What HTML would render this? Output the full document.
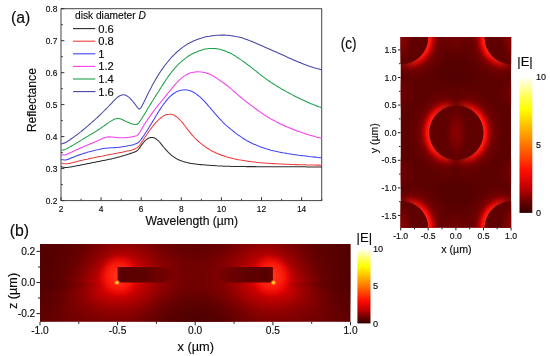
<!DOCTYPE html>
<html><head><meta charset="utf-8"><title>figure</title>
<style>html,body{margin:0;padding:0;background:#fff}body{width:550px;height:356px;overflow:hidden}svg{display:block}text{font-family:"Liberation Sans",sans-serif;fill:#0a0a0a;stroke:#0a0a0a;stroke-width:0.14px}</style></head><body>
<svg width="550" height="356" viewBox="0 0 550 356">
<defs>
<linearGradient id="cb" x1="0" y1="0" x2="0" y2="1"><stop offset="0" stop-color="#ffffff"/><stop offset="0.07" stop-color="#ffffb0"/><stop offset="0.15" stop-color="#ffff50"/><stop offset="0.24" stop-color="#ffff00"/><stop offset="0.33" stop-color="#ffd000"/><stop offset="0.45" stop-color="#ff9000"/><stop offset="0.57" stop-color="#ff5000"/><stop offset="0.69" stop-color="#ff0c00"/><stop offset="0.82" stop-color="#c00000"/><stop offset="0.91" stop-color="#700000"/><stop offset="1" stop-color="#320000"/></linearGradient>
<radialGradient id="bglow" cx="0.5" cy="0.5" r="0.5"><stop offset="0" stop-color="#ff1408" stop-opacity="1"/><stop offset="0.1" stop-color="#f40a04" stop-opacity="1"/><stop offset="0.22" stop-color="#dc0000" stop-opacity="1"/><stop offset="0.36" stop-color="#be0000" stop-opacity="0.92"/><stop offset="0.55" stop-color="#a00000" stop-opacity="0.62"/><stop offset="0.8" stop-color="#880000" stop-opacity="0.22"/><stop offset="1" stop-color="#780000" stop-opacity="0"/></radialGradient>
<radialGradient id="bglow2" cx="0.5" cy="0.5" r="0.5"><stop offset="0" stop-color="#ff3a1c" stop-opacity="1"/><stop offset="0.35" stop-color="#ff2612" stop-opacity="1"/><stop offset="0.6" stop-color="#fc1a0a" stop-opacity="0.85"/><stop offset="0.8" stop-color="#f40e06" stop-opacity="0.45"/><stop offset="1" stop-color="#f00a04" stop-opacity="0"/></radialGradient>
<radialGradient id="hot" cx="0.5" cy="0.5" r="0.5"><stop offset="0" stop-color="#fff060"/><stop offset="0.3" stop-color="#ffc820"/><stop offset="0.65" stop-color="#ff6a10" stop-opacity="0.85"/><stop offset="1" stop-color="#ff3010" stop-opacity="0"/></radialGradient>
<radialGradient id="dark" cx="0.5" cy="0.5" r="0.5"><stop offset="0" stop-color="#4a0000" stop-opacity="0.95"/><stop offset="0.55" stop-color="#520000" stop-opacity="0.6"/><stop offset="1" stop-color="#600000" stop-opacity="0"/></radialGradient>
<linearGradient id="subL" x1="0" y1="0" x2="1" y2="0"><stop offset="0" stop-color="#300000" stop-opacity="0.12"/><stop offset="0.6" stop-color="#300000" stop-opacity="0.12"/><stop offset="1" stop-color="#300000" stop-opacity="0"/></linearGradient>
<linearGradient id="subR" x1="1" y1="0" x2="0" y2="0"><stop offset="0" stop-color="#300000" stop-opacity="0.12"/><stop offset="0.6" stop-color="#300000" stop-opacity="0.12"/><stop offset="1" stop-color="#300000" stop-opacity="0"/></linearGradient>
<clipPath id="clipSub"><rect x="40" y="282.6" width="310.5" height="20"/></clipPath>
<linearGradient id="diskL" gradientUnits="userSpaceOnUse" x1="117.6" y1="0" x2="182" y2="0"><stop offset="0" stop-color="#6c0000"/><stop offset="0.06" stop-color="#580000"/><stop offset="0.45" stop-color="#600000"/><stop offset="0.75" stop-color="#6c0000" stop-opacity="0.8"/><stop offset="1" stop-color="#780000" stop-opacity="0.15"/></linearGradient>
<linearGradient id="diskR" gradientUnits="userSpaceOnUse" x1="272.9" y1="0" x2="208" y2="0"><stop offset="0" stop-color="#6c0000"/><stop offset="0.06" stop-color="#580000"/><stop offset="0.45" stop-color="#600000"/><stop offset="0.75" stop-color="#6c0000" stop-opacity="0.8"/><stop offset="1" stop-color="#780000" stop-opacity="0.15"/></linearGradient>
<filter id="blur1" x="-10%" y="-30%" width="120%" height="160%"><feGaussianBlur stdDeviation="1.5"/></filter>
<clipPath id="clipDisk"><rect x="117.6" y="267" width="155.3" height="15.6"/></clipPath>
<clipPath id="clipB"><rect x="40" y="244.1" width="310.5" height="77.7"/></clipPath>
<clipPath id="clipC"><rect x="400.5" y="37" width="110.7" height="190.8"/></clipPath>
<radialGradient id="cring" cx="0.5" cy="0.5" r="0.5"><stop offset="0.488" stop-color="#ff1a10" stop-opacity="0"/><stop offset="0.505" stop-color="#ff2416" stop-opacity="1"/><stop offset="0.555" stop-color="#f20c06" stop-opacity="1"/><stop offset="0.6" stop-color="#c80000" stop-opacity="0.85"/><stop offset="0.66" stop-color="#9c0000" stop-opacity="0.5"/><stop offset="0.77" stop-color="#800000" stop-opacity="0.25"/><stop offset="0.94" stop-color="#700000" stop-opacity="0"/></radialGradient>
<radialGradient id="cin" cx="0.5" cy="0.5" r="0.5"><stop offset="0" stop-color="#640000"/><stop offset="0.7" stop-color="#600000"/><stop offset="1" stop-color="#620000"/></radialGradient>
<radialGradient id="dark2" cx="0.5" cy="0.5" r="0.5"><stop offset="0" stop-color="#500000" stop-opacity="0.9"/><stop offset="0.6" stop-color="#540000" stop-opacity="0.6"/><stop offset="1" stop-color="#5c0000" stop-opacity="0"/></radialGradient>
<radialGradient id="lite" cx="0.5" cy="0.5" r="0.5"><stop offset="0" stop-color="#780000" stop-opacity="0.9"/><stop offset="0.6" stop-color="#720000" stop-opacity="0.6"/><stop offset="1" stop-color="#6a0000" stop-opacity="0"/></radialGradient>
<radialGradient id="lite2" cx="0.5" cy="0.5" r="0.5"><stop offset="0" stop-color="#900000" stop-opacity="0.95"/><stop offset="0.5" stop-color="#880000" stop-opacity="0.65"/><stop offset="1" stop-color="#780000" stop-opacity="0"/></radialGradient>
<linearGradient id="cmask" x1="0" y1="0" x2="1" y2="0"><stop offset="0" stop-color="#fff"/><stop offset="0.27" stop-color="#fff" /><stop offset="0.35" stop-color="#c4c4c4"/><stop offset="0.41" stop-color="#868686"/><stop offset="0.46" stop-color="#444444"/><stop offset="0.5" stop-color="#222222"/><stop offset="0.54" stop-color="#444444"/><stop offset="0.59" stop-color="#868686"/><stop offset="0.65" stop-color="#c4c4c4"/><stop offset="0.73" stop-color="#fff"/><stop offset="1" stop-color="#fff"/></linearGradient>
</defs>
<g id="panelA">
<text x="11" y="22.7" font-size="15.8">(a)</text>
<rect x="61.0" y="8.7" width="260.7" height="191.9" fill="none" stroke="#444" stroke-width="1"/>
<path d="M61.0 200.6v-3.4M81.1 200.6v-1.8M101.1 200.6v-3.4M121.2 200.6v-1.8M141.2 200.6v-3.4M161.3 200.6v-1.8M181.3 200.6v-3.4M201.4 200.6v-1.8M221.4 200.6v-3.4M241.5 200.6v-1.8M261.5 200.6v-3.4M281.6 200.6v-1.8M301.6 200.6v-3.4M321.7 200.6v-1.8M61.0 200.6h3.4M61.0 184.6h1.8M61.0 168.6h3.4M61.0 152.6h1.8M61.0 136.6h3.4M61.0 120.6h1.8M61.0 104.6h3.4M61.0 88.7h1.8M61.0 72.7h3.4M61.0 56.7h1.8M61.0 40.7h3.4M61.0 24.7h1.8M61.0 8.7h3.4" stroke="#333" stroke-width="1" fill="none"/>
<text x="61.0" y="212" font-size="8.4" text-anchor="middle">2</text>
<text x="101.1" y="212" font-size="8.4" text-anchor="middle">4</text>
<text x="141.2" y="212" font-size="8.4" text-anchor="middle">6</text>
<text x="181.3" y="212" font-size="8.4" text-anchor="middle">8</text>
<text x="221.4" y="212" font-size="8.4" text-anchor="middle">10</text>
<text x="261.5" y="212" font-size="8.4" text-anchor="middle">12</text>
<text x="301.6" y="212" font-size="8.4" text-anchor="middle">14</text>
<text x="57.3" y="203.6" font-size="8.4" text-anchor="end">0.2</text>
<text x="57.3" y="171.6" font-size="8.4" text-anchor="end">0.3</text>
<text x="57.3" y="139.6" font-size="8.4" text-anchor="end">0.4</text>
<text x="57.3" y="107.6" font-size="8.4" text-anchor="end">0.5</text>
<text x="57.3" y="75.7" font-size="8.4" text-anchor="end">0.6</text>
<text x="57.3" y="43.7" font-size="8.4" text-anchor="end">0.7</text>
<text x="57.3" y="11.7" font-size="8.4" text-anchor="end">0.8</text>
<text x="191.8" y="225.2" font-size="12.2" text-anchor="middle">Wavelength (µm)</text>
<text transform="translate(36,100.2) rotate(-90)" font-size="12.2" text-anchor="middle">Reflectance</text>
<g fill="none" stroke-width="1.05" stroke-linejoin="round">
<path d="M61.0 166.6C61.3 166.7 62.3 167.1 63.0 167.2C63.7 167.3 64.3 167.4 65.0 167.5C65.7 167.5 66.3 167.5 67.0 167.4C67.7 167.4 68.3 167.3 69.0 167.2C69.7 167.1 70.3 167.0 71.0 166.9C71.7 166.7 72.3 166.6 73.0 166.5C73.7 166.4 74.3 166.3 75.0 166.2C75.7 166.0 76.3 165.9 77.0 165.8C77.7 165.7 78.3 165.5 79.0 165.4C79.7 165.3 80.3 165.1 81.0 165.0C81.7 164.9 82.3 164.7 83.0 164.6C83.7 164.5 84.3 164.3 85.0 164.2C85.7 164.1 86.3 163.9 87.0 163.8C87.7 163.7 88.3 163.5 89.0 163.4C89.7 163.3 90.3 163.1 91.0 163.0C91.7 162.9 92.3 162.7 93.0 162.6C93.7 162.5 94.3 162.3 95.0 162.2C95.7 162.1 96.3 161.9 97.0 161.8C97.7 161.7 98.3 161.5 99.0 161.4C99.7 161.3 100.3 161.1 101.0 161.0C101.7 160.9 102.3 160.7 103.0 160.6C103.7 160.5 104.3 160.3 105.0 160.2C105.7 160.1 106.3 159.9 107.0 159.8C107.7 159.6 108.3 159.5 109.0 159.3C109.7 159.2 110.3 159.1 111.0 158.9C111.7 158.8 112.3 158.6 113.0 158.5C113.7 158.3 114.3 158.2 115.0 158.0C115.7 157.8 116.3 157.7 117.0 157.5C117.7 157.4 118.3 157.2 119.0 157.0C119.7 156.8 120.3 156.6 121.0 156.4C121.7 156.2 122.3 156.0 123.0 155.8C123.7 155.6 124.3 155.4 125.0 155.2C125.7 155.0 126.3 154.8 127.0 154.6C127.7 154.4 128.3 154.2 129.0 154.0C129.7 153.8 130.3 153.6 131.0 153.3C131.7 153.1 132.3 152.8 133.0 152.6C133.7 152.3 134.3 152.1 135.0 151.8C135.7 151.5 136.3 151.3 137.0 150.8C137.7 150.3 138.3 149.6 139.0 148.7C139.7 147.9 140.3 146.7 141.0 145.8C141.7 144.9 142.3 143.9 143.0 143.1C143.7 142.3 144.3 141.5 145.0 140.8C145.7 140.2 146.3 139.6 147.0 139.1C147.7 138.6 148.3 138.3 149.0 138.0C149.7 137.7 150.3 137.5 151.0 137.4C151.7 137.4 152.3 137.4 153.0 137.5C153.7 137.6 154.3 137.9 155.0 138.2C155.7 138.6 156.3 139.0 157.0 139.6C157.7 140.1 158.3 140.8 159.0 141.5C159.7 142.2 160.3 143.0 161.0 143.8C161.7 144.6 162.3 145.4 163.0 146.3C163.7 147.1 164.3 147.9 165.0 148.7C165.7 149.5 166.3 150.2 167.0 150.9C167.7 151.7 168.3 152.3 169.0 153.0C169.7 153.6 170.3 154.2 171.0 154.8C171.7 155.4 172.3 155.9 173.0 156.4C173.7 156.9 174.3 157.4 175.0 157.8C175.7 158.2 176.3 158.6 177.0 159.0C177.7 159.3 178.3 159.6 179.0 159.9C179.7 160.2 180.3 160.5 181.0 160.8C181.7 161.0 182.3 161.2 183.0 161.5C183.7 161.7 184.3 161.9 185.0 162.1C185.7 162.3 186.3 162.4 187.0 162.6C187.7 162.7 188.3 162.9 189.0 163.0C189.7 163.1 190.3 163.3 191.0 163.4C191.7 163.5 192.3 163.6 193.0 163.7C193.7 163.8 194.3 163.9 195.0 164.0C195.7 164.1 196.3 164.1 197.0 164.2C197.7 164.3 198.3 164.4 199.0 164.4C199.7 164.5 200.3 164.6 201.0 164.6C201.7 164.7 202.3 164.7 203.0 164.8C203.7 164.8 204.3 164.9 205.0 164.9C205.7 165.0 206.3 165.0 207.0 165.1C207.7 165.1 208.3 165.2 209.0 165.2C209.7 165.3 210.3 165.3 211.0 165.4C211.7 165.4 212.3 165.5 213.0 165.5C213.7 165.6 214.3 165.6 215.0 165.7C215.7 165.7 216.3 165.7 217.0 165.8C217.7 165.8 218.3 165.8 219.0 165.9C219.7 165.9 220.3 165.9 221.0 166.0C221.7 166.0 222.3 166.0 223.0 166.1C223.7 166.1 224.3 166.1 225.0 166.2C225.7 166.2 226.3 166.2 227.0 166.2C227.7 166.3 228.3 166.3 229.0 166.3C229.7 166.3 230.3 166.4 231.0 166.4C231.7 166.4 232.3 166.4 233.0 166.4C233.7 166.4 234.3 166.4 235.0 166.4C235.7 166.5 236.3 166.5 237.0 166.5C237.7 166.5 238.3 166.5 239.0 166.5C239.7 166.5 240.3 166.5 241.0 166.5C241.7 166.5 242.3 166.5 243.0 166.5C243.7 166.5 244.3 166.5 245.0 166.5C245.7 166.6 246.3 166.6 247.0 166.6C247.7 166.6 248.3 166.6 249.0 166.6C249.7 166.6 250.3 166.6 251.0 166.6C251.7 166.6 252.3 166.6 253.0 166.6C253.7 166.6 254.3 166.6 255.0 166.6C255.7 166.7 256.3 166.7 257.0 166.7C257.7 166.7 258.3 166.7 259.0 166.7C259.7 166.7 260.3 166.7 261.0 166.7C261.7 166.7 262.3 166.7 263.0 166.7C263.7 166.7 264.3 166.7 265.0 166.7C265.7 166.7 266.3 166.7 267.0 166.7C267.7 166.7 268.3 166.7 269.0 166.7C269.7 166.7 270.3 166.7 271.0 166.7C271.7 166.7 272.3 166.7 273.0 166.7C273.7 166.7 274.3 166.7 275.0 166.7C275.7 166.8 276.3 166.8 277.0 166.8C277.7 166.8 278.3 166.8 279.0 166.8C279.7 166.8 280.3 166.8 281.0 166.8C281.7 166.8 282.3 166.8 283.0 166.8C283.7 166.8 284.3 166.8 285.0 166.8C285.7 166.8 286.3 166.8 287.0 166.8C287.7 166.8 288.3 166.8 289.0 166.8C289.7 166.8 290.3 166.8 291.0 166.8C291.7 166.8 292.3 166.8 293.0 166.8C293.7 166.8 294.3 166.8 295.0 166.8C295.7 166.8 296.3 166.8 297.0 166.8C297.7 166.8 298.3 166.8 299.0 166.8C299.7 166.8 300.3 166.8 301.0 166.8C301.7 166.8 302.3 166.8 303.0 166.8C303.7 166.8 304.3 166.8 305.0 166.8C305.7 166.8 306.3 166.8 307.0 166.9C307.7 166.9 308.3 166.9 309.0 166.9C309.7 166.9 310.3 166.9 311.0 166.9C311.7 166.9 312.3 166.9 313.0 166.9C313.7 166.9 314.3 166.9 315.0 166.9C315.7 166.9 316.3 166.9 317.0 166.9C317.7 166.9 318.3 166.9 319.0 166.9C319.7 166.9 320.5 166.9 321.0 166.9C321.5 166.9 321.8 166.9 322.0 166.9" stroke="#2b2b2b"/>
<path d="M61.0 162.9C61.3 163.0 62.3 163.3 63.0 163.4C63.7 163.6 64.3 163.8 65.0 163.8C65.7 163.9 66.3 163.8 67.0 163.7C67.7 163.6 68.3 163.5 69.0 163.4C69.7 163.2 70.3 163.1 71.0 162.9C71.7 162.8 72.3 162.6 73.0 162.5C73.7 162.3 74.3 162.2 75.0 162.0C75.7 161.8 76.3 161.7 77.0 161.5C77.7 161.4 78.3 161.2 79.0 161.0C79.7 160.9 80.3 160.7 81.0 160.5C81.7 160.4 82.3 160.2 83.0 160.1C83.7 159.9 84.3 159.8 85.0 159.6C85.7 159.5 86.3 159.3 87.0 159.2C87.7 159.0 88.3 158.9 89.0 158.7C89.7 158.6 90.3 158.4 91.0 158.3C91.7 158.2 92.3 158.0 93.0 157.9C93.7 157.7 94.3 157.6 95.0 157.5C95.7 157.3 96.3 157.2 97.0 157.0C97.7 156.9 98.3 156.8 99.0 156.6C99.7 156.5 100.3 156.4 101.0 156.3C101.7 156.1 102.3 156.0 103.0 155.9C103.7 155.7 104.3 155.6 105.0 155.5C105.7 155.4 106.3 155.2 107.0 155.1C107.7 155.0 108.3 154.8 109.0 154.7C109.7 154.6 110.3 154.5 111.0 154.3C111.7 154.2 112.3 154.1 113.0 154.0C113.7 153.8 114.3 153.7 115.0 153.6C115.7 153.4 116.3 153.3 117.0 153.2C117.7 153.1 118.3 152.9 119.0 152.8C119.7 152.7 120.3 152.5 121.0 152.4C121.7 152.3 122.3 152.1 123.0 152.0C123.7 151.8 124.3 151.7 125.0 151.6C125.7 151.4 126.3 151.3 127.0 151.1C127.7 151.0 128.3 150.8 129.0 150.7C129.7 150.5 130.3 150.3 131.0 150.2C131.7 150.0 132.3 149.8 133.0 149.6C133.7 149.3 134.3 149.1 135.0 148.8C135.7 148.5 136.3 148.3 137.0 147.9C137.7 147.4 138.3 146.7 139.0 146.0C139.7 145.2 140.3 144.1 141.0 143.2C141.7 142.2 142.3 141.2 143.0 140.2C143.7 139.2 144.3 138.2 145.0 137.2C145.7 136.2 146.3 135.2 147.0 134.2C147.7 133.2 148.3 132.3 149.0 131.3C149.7 130.4 150.3 129.5 151.0 128.6C151.7 127.7 152.3 126.9 153.0 126.0C153.7 125.2 154.3 124.4 155.0 123.6C155.7 122.8 156.3 122.1 157.0 121.4C157.7 120.7 158.3 120.0 159.0 119.4C159.7 118.8 160.3 118.2 161.0 117.7C161.7 117.2 162.3 116.8 163.0 116.4C163.7 116.0 164.3 115.6 165.0 115.3C165.7 115.0 166.3 114.8 167.0 114.6C167.7 114.4 168.3 114.2 169.0 114.2C169.7 114.1 170.3 114.2 171.0 114.2C171.7 114.3 172.3 114.5 173.0 114.8C173.7 115.0 174.3 115.3 175.0 115.7C175.7 116.1 176.3 116.5 177.0 117.1C177.7 117.6 178.3 118.2 179.0 118.8C179.7 119.5 180.3 120.2 181.0 121.0C181.7 121.7 182.3 122.6 183.0 123.4C183.7 124.2 184.3 125.1 185.0 126.0C185.7 126.9 186.3 127.8 187.0 128.6C187.7 129.5 188.3 130.4 189.0 131.2C189.7 132.1 190.3 132.9 191.0 133.7C191.7 134.5 192.3 135.3 193.0 136.0C193.7 136.8 194.3 137.5 195.0 138.2C195.7 138.8 196.3 139.5 197.0 140.1C197.7 140.8 198.3 141.4 199.0 141.9C199.7 142.5 200.3 143.1 201.0 143.6C201.7 144.1 202.3 144.7 203.0 145.2C203.7 145.7 204.3 146.1 205.0 146.6C205.7 147.1 206.3 147.5 207.0 148.0C207.7 148.4 208.3 148.8 209.0 149.3C209.7 149.7 210.3 150.1 211.0 150.4C211.7 150.8 212.3 151.2 213.0 151.5C213.7 151.9 214.3 152.2 215.0 152.5C215.7 152.8 216.3 153.1 217.0 153.4C217.7 153.7 218.3 153.9 219.0 154.2C219.7 154.4 220.3 154.7 221.0 154.9C221.7 155.2 222.3 155.4 223.0 155.6C223.7 155.9 224.3 156.1 225.0 156.3C225.7 156.5 226.3 156.8 227.0 157.0C227.7 157.2 228.3 157.4 229.0 157.6C229.7 157.8 230.3 157.9 231.0 158.1C231.7 158.3 232.3 158.4 233.0 158.6C233.7 158.7 234.3 158.9 235.0 159.0C235.7 159.1 236.3 159.3 237.0 159.4C237.7 159.5 238.3 159.6 239.0 159.8C239.7 159.9 240.3 160.0 241.0 160.1C241.7 160.2 242.3 160.3 243.0 160.4C243.7 160.5 244.3 160.7 245.0 160.8C245.7 160.9 246.3 161.0 247.0 161.1C247.7 161.2 248.3 161.3 249.0 161.4C249.7 161.5 250.3 161.5 251.0 161.6C251.7 161.7 252.3 161.8 253.0 161.9C253.7 162.0 254.3 162.0 255.0 162.1C255.7 162.2 256.3 162.3 257.0 162.4C257.7 162.4 258.3 162.5 259.0 162.6C259.7 162.6 260.3 162.7 261.0 162.8C261.7 162.8 262.3 162.9 263.0 162.9C263.7 163.0 264.3 163.0 265.0 163.1C265.7 163.2 266.3 163.2 267.0 163.3C267.7 163.3 268.3 163.4 269.0 163.4C269.7 163.4 270.3 163.5 271.0 163.5C271.7 163.6 272.3 163.6 273.0 163.6C273.7 163.7 274.3 163.7 275.0 163.7C275.7 163.8 276.3 163.8 277.0 163.8C277.7 163.8 278.3 163.9 279.0 163.9C279.7 163.9 280.3 164.0 281.0 164.0C281.7 164.0 282.3 164.0 283.0 164.1C283.7 164.1 284.3 164.1 285.0 164.2C285.7 164.2 286.3 164.2 287.0 164.2C287.7 164.3 288.3 164.3 289.0 164.3C289.7 164.4 290.3 164.4 291.0 164.4C291.7 164.4 292.3 164.5 293.0 164.5C293.7 164.5 294.3 164.5 295.0 164.6C295.7 164.6 296.3 164.6 297.0 164.6C297.7 164.6 298.3 164.7 299.0 164.7C299.7 164.7 300.3 164.7 301.0 164.7C301.7 164.7 302.3 164.8 303.0 164.8C303.7 164.8 304.3 164.8 305.0 164.8C305.7 164.8 306.3 164.8 307.0 164.9C307.7 164.9 308.3 164.9 309.0 164.9C309.7 164.9 310.3 164.9 311.0 165.0C311.7 165.0 312.3 165.0 313.0 165.0C313.7 165.0 314.3 165.0 315.0 165.0C315.7 165.1 316.3 165.1 317.0 165.1C317.7 165.1 318.3 165.1 319.0 165.1C319.7 165.1 320.5 165.2 321.0 165.2C321.5 165.2 321.8 165.2 322.0 165.2" stroke="#f03c3c"/>
<path d="M61.0 159.4C61.3 159.5 62.3 159.7 63.0 159.8C63.7 159.9 64.3 160.0 65.0 160.0C65.7 160.0 66.3 159.8 67.0 159.6C67.7 159.4 68.3 159.2 69.0 158.9C69.7 158.7 70.3 158.4 71.0 158.1C71.7 157.9 72.3 157.6 73.0 157.3C73.7 157.0 74.3 156.8 75.0 156.5C75.7 156.2 76.3 156.0 77.0 155.7C77.7 155.5 78.3 155.3 79.0 155.0C79.7 154.8 80.3 154.6 81.0 154.3C81.7 154.1 82.3 153.9 83.0 153.7C83.7 153.5 84.3 153.3 85.0 153.0C85.7 152.8 86.3 152.6 87.0 152.4C87.7 152.2 88.3 152.0 89.0 151.8C89.7 151.7 90.3 151.5 91.0 151.3C91.7 151.1 92.3 150.9 93.0 150.8C93.7 150.6 94.3 150.4 95.0 150.3C95.7 150.1 96.3 149.9 97.0 149.8C97.7 149.6 98.3 149.5 99.0 149.4C99.7 149.2 100.3 149.1 101.0 148.9C101.7 148.8 102.3 148.7 103.0 148.6C103.7 148.5 104.3 148.4 105.0 148.3C105.7 148.2 106.3 148.1 107.0 148.1C107.7 148.0 108.3 148.0 109.0 147.9C109.7 147.9 110.3 147.9 111.0 147.8C111.7 147.8 112.3 147.8 113.0 147.7C113.7 147.7 114.3 147.7 115.0 147.6C115.7 147.6 116.3 147.5 117.0 147.5C117.7 147.4 118.3 147.4 119.0 147.3C119.7 147.2 120.3 147.1 121.0 147.0C121.7 146.9 122.3 146.8 123.0 146.7C123.7 146.6 124.3 146.5 125.0 146.4C125.7 146.2 126.3 146.1 127.0 146.0C127.7 145.8 128.3 145.7 129.0 145.6C129.7 145.4 130.3 145.3 131.0 145.2C131.7 145.0 132.3 144.8 133.0 144.7C133.7 144.5 134.3 144.3 135.0 144.1C135.7 143.8 136.3 143.7 137.0 143.3C137.7 143.0 138.3 142.6 139.0 141.9C139.7 141.3 140.3 140.3 141.0 139.5C141.7 138.6 142.3 137.6 143.0 136.7C143.7 135.8 144.3 134.8 145.0 133.8C145.7 132.8 146.3 131.8 147.0 130.7C147.7 129.7 148.3 128.6 149.0 127.5C149.7 126.4 150.3 125.3 151.0 124.2C151.7 123.1 152.3 122.0 153.0 120.9C153.7 119.8 154.3 118.7 155.0 117.6C155.7 116.4 156.3 115.3 157.0 114.2C157.7 113.1 158.3 112.1 159.0 111.0C159.7 109.9 160.3 108.9 161.0 107.9C161.7 106.9 162.3 105.9 163.0 105.0C163.7 104.0 164.3 103.1 165.0 102.3C165.7 101.4 166.3 100.6 167.0 99.8C167.7 99.0 168.3 98.3 169.0 97.6C169.7 96.9 170.3 96.2 171.0 95.6C171.7 95.0 172.3 94.5 173.0 94.0C173.7 93.5 174.3 93.1 175.0 92.7C175.7 92.3 176.3 91.9 177.0 91.6C177.7 91.3 178.3 91.0 179.0 90.8C179.7 90.6 180.3 90.4 181.0 90.2C181.7 90.1 182.3 90.0 183.0 89.9C183.7 89.8 184.3 89.8 185.0 89.8C185.7 89.8 186.3 89.9 187.0 90.0C187.7 90.1 188.3 90.2 189.0 90.4C189.7 90.6 190.3 90.8 191.0 91.0C191.7 91.3 192.3 91.6 193.0 92.0C193.7 92.3 194.3 92.7 195.0 93.1C195.7 93.5 196.3 94.0 197.0 94.5C197.7 95.0 198.3 95.5 199.0 96.1C199.7 96.6 200.3 97.2 201.0 97.8C201.7 98.5 202.3 99.1 203.0 99.8C203.7 100.5 204.3 101.2 205.0 101.9C205.7 102.7 206.3 103.4 207.0 104.2C207.7 105.0 208.3 105.8 209.0 106.5C209.7 107.3 210.3 108.1 211.0 108.9C211.7 109.7 212.3 110.5 213.0 111.2C213.7 112.0 214.3 112.8 215.0 113.6C215.7 114.3 216.3 115.1 217.0 115.8C217.7 116.6 218.3 117.3 219.0 118.1C219.7 118.8 220.3 119.5 221.0 120.2C221.7 120.9 222.3 121.6 223.0 122.3C223.7 123.0 224.3 123.6 225.0 124.3C225.7 124.9 226.3 125.5 227.0 126.1C227.7 126.6 228.3 127.2 229.0 127.7C229.7 128.3 230.3 128.8 231.0 129.4C231.7 129.9 232.3 130.5 233.0 131.0C233.7 131.5 234.3 132.1 235.0 132.6C235.7 133.1 236.3 133.6 237.0 134.1C237.7 134.6 238.3 135.1 239.0 135.5C239.7 136.0 240.3 136.5 241.0 136.9C241.7 137.4 242.3 137.8 243.0 138.2C243.7 138.7 244.3 139.1 245.0 139.5C245.7 139.9 246.3 140.3 247.0 140.7C247.7 141.1 248.3 141.5 249.0 141.8C249.7 142.2 250.3 142.5 251.0 142.8C251.7 143.1 252.3 143.4 253.0 143.7C253.7 144.0 254.3 144.3 255.0 144.6C255.7 144.9 256.3 145.2 257.0 145.5C257.7 145.7 258.3 146.0 259.0 146.3C259.7 146.5 260.3 146.8 261.0 147.0C261.7 147.2 262.3 147.5 263.0 147.7C263.7 147.9 264.3 148.2 265.0 148.4C265.7 148.6 266.3 148.8 267.0 149.0C267.7 149.2 268.3 149.4 269.0 149.6C269.7 149.8 270.3 150.0 271.0 150.2C271.7 150.3 272.3 150.5 273.0 150.7C273.7 150.8 274.3 151.0 275.0 151.1C275.7 151.3 276.3 151.4 277.0 151.6C277.7 151.7 278.3 151.8 279.0 152.0C279.7 152.1 280.3 152.3 281.0 152.4C281.7 152.5 282.3 152.6 283.0 152.8C283.7 152.9 284.3 153.0 285.0 153.1C285.7 153.2 286.3 153.3 287.0 153.5C287.7 153.6 288.3 153.7 289.0 153.8C289.7 153.9 290.3 154.0 291.0 154.1C291.7 154.2 292.3 154.3 293.0 154.4C293.7 154.5 294.3 154.6 295.0 154.7C295.7 154.8 296.3 154.9 297.0 155.0C297.7 155.1 298.3 155.2 299.0 155.3C299.7 155.3 300.3 155.4 301.0 155.5C301.7 155.6 302.3 155.7 303.0 155.7C303.7 155.8 304.3 155.9 305.0 156.0C305.7 156.1 306.3 156.1 307.0 156.2C307.7 156.3 308.3 156.4 309.0 156.5C309.7 156.5 310.3 156.6 311.0 156.7C311.7 156.8 312.3 156.8 313.0 156.9C313.7 157.0 314.3 157.1 315.0 157.1C315.7 157.2 316.3 157.3 317.0 157.3C317.7 157.4 318.3 157.5 319.0 157.6C319.7 157.6 320.5 157.7 321.0 157.8C321.5 157.8 321.8 157.9 322.0 157.9" stroke="#4343f2"/>
<path d="M61.0 154.8C61.3 154.8 62.3 155.0 63.0 155.0C63.7 155.0 64.3 155.1 65.0 155.0C65.7 154.9 66.3 154.5 67.0 154.2C67.7 154.0 68.3 153.6 69.0 153.3C69.7 153.0 70.3 152.7 71.0 152.4C71.7 152.0 72.3 151.7 73.0 151.4C73.7 151.1 74.3 150.8 75.0 150.5C75.7 150.2 76.3 149.9 77.0 149.6C77.7 149.3 78.3 149.0 79.0 148.7C79.7 148.4 80.3 148.1 81.0 147.8C81.7 147.5 82.3 147.3 83.0 147.0C83.7 146.7 84.3 146.4 85.0 146.1C85.7 145.8 86.3 145.5 87.0 145.3C87.7 145.0 88.3 144.7 89.0 144.4C89.7 144.2 90.3 143.9 91.0 143.6C91.7 143.3 92.3 143.1 93.0 142.8C93.7 142.5 94.3 142.2 95.0 142.0C95.7 141.7 96.3 141.4 97.0 141.1C97.7 140.8 98.3 140.4 99.0 140.1C99.7 139.8 100.3 139.5 101.0 139.2C101.7 138.9 102.3 138.6 103.0 138.3C103.7 138.0 104.3 137.8 105.0 137.6C105.7 137.4 106.3 137.2 107.0 137.1C107.7 136.9 108.3 136.9 109.0 136.8C109.7 136.8 110.3 136.8 111.0 136.9C111.7 136.9 112.3 137.0 113.0 137.1C113.7 137.1 114.3 137.2 115.0 137.3C115.7 137.4 116.3 137.5 117.0 137.6C117.7 137.7 118.3 137.7 119.0 137.8C119.7 137.8 120.3 137.8 121.0 137.8C121.7 137.8 122.3 137.8 123.0 137.8C123.7 137.8 124.3 137.7 125.0 137.7C125.7 137.6 126.3 137.6 127.0 137.5C127.7 137.4 128.3 137.4 129.0 137.3C129.7 137.2 130.3 137.1 131.0 137.0C131.7 136.9 132.3 136.8 133.0 136.7C133.7 136.6 134.3 136.4 135.0 136.2C135.7 136.0 136.3 136.0 137.0 135.6C137.7 135.1 138.3 134.5 139.0 133.6C139.7 132.7 140.3 131.3 141.0 130.1C141.7 129.0 142.3 127.8 143.0 126.7C143.7 125.6 144.3 124.5 145.0 123.5C145.7 122.4 146.3 121.4 147.0 120.5C147.7 119.5 148.3 118.5 149.0 117.6C149.7 116.6 150.3 115.7 151.0 114.7C151.7 113.8 152.3 112.9 153.0 111.9C153.7 111.0 154.3 110.2 155.0 109.3C155.7 108.4 156.3 107.6 157.0 106.7C157.7 105.9 158.3 105.1 159.0 104.2C159.7 103.4 160.3 102.6 161.0 101.8C161.7 101.0 162.3 100.2 163.0 99.3C163.7 98.5 164.3 97.7 165.0 96.9C165.7 96.1 166.3 95.3 167.0 94.4C167.7 93.6 168.3 92.8 169.0 92.0C169.7 91.2 170.3 90.4 171.0 89.6C171.7 88.7 172.3 87.9 173.0 87.1C173.7 86.3 174.3 85.5 175.0 84.7C175.7 83.9 176.3 83.2 177.0 82.5C177.7 81.8 178.3 81.1 179.0 80.4C179.7 79.8 180.3 79.1 181.0 78.6C181.7 78.0 182.3 77.4 183.0 76.9C183.7 76.4 184.3 76.0 185.0 75.6C185.7 75.1 186.3 74.7 187.0 74.4C187.7 74.1 188.3 73.8 189.0 73.5C189.7 73.2 190.3 73.0 191.0 72.8C191.7 72.6 192.3 72.5 193.0 72.3C193.7 72.2 194.3 72.1 195.0 72.0C195.7 71.9 196.3 71.8 197.0 71.8C197.7 71.8 198.3 71.7 199.0 71.8C199.7 71.8 200.3 71.8 201.0 71.9C201.7 72.0 202.3 72.1 203.0 72.2C203.7 72.3 204.3 72.5 205.0 72.6C205.7 72.8 206.3 73.0 207.0 73.2C207.7 73.4 208.3 73.7 209.0 73.9C209.7 74.2 210.3 74.5 211.0 74.8C211.7 75.2 212.3 75.5 213.0 75.9C213.7 76.3 214.3 76.7 215.0 77.1C215.7 77.5 216.3 78.0 217.0 78.4C217.7 78.9 218.3 79.3 219.0 79.8C219.7 80.2 220.3 80.7 221.0 81.1C221.7 81.6 222.3 82.1 223.0 82.5C223.7 83.0 224.3 83.5 225.0 84.0C225.7 84.5 226.3 85.0 227.0 85.5C227.7 86.0 228.3 86.6 229.0 87.1C229.7 87.7 230.3 88.3 231.0 88.8C231.7 89.4 232.3 90.0 233.0 90.6C233.7 91.2 234.3 91.8 235.0 92.4C235.7 93.0 236.3 93.6 237.0 94.1C237.7 94.7 238.3 95.3 239.0 95.8C239.7 96.4 240.3 96.9 241.0 97.5C241.7 98.0 242.3 98.6 243.0 99.1C243.7 99.6 244.3 100.1 245.0 100.7C245.7 101.2 246.3 101.7 247.0 102.2C247.7 102.7 248.3 103.2 249.0 103.8C249.7 104.3 250.3 104.8 251.0 105.3C251.7 105.8 252.3 106.3 253.0 106.8C253.7 107.3 254.3 107.8 255.0 108.3C255.7 108.8 256.3 109.2 257.0 109.7C257.7 110.2 258.3 110.7 259.0 111.2C259.7 111.6 260.3 112.1 261.0 112.6C261.7 113.1 262.3 113.5 263.0 114.0C263.7 114.4 264.3 114.9 265.0 115.3C265.7 115.8 266.3 116.2 267.0 116.6C267.7 117.0 268.3 117.4 269.0 117.8C269.7 118.2 270.3 118.6 271.0 118.9C271.7 119.3 272.3 119.7 273.0 120.0C273.7 120.4 274.3 120.7 275.0 121.1C275.7 121.5 276.3 121.8 277.0 122.2C277.7 122.5 278.3 122.8 279.0 123.2C279.7 123.5 280.3 123.8 281.0 124.2C281.7 124.5 282.3 124.8 283.0 125.1C283.7 125.4 284.3 125.7 285.0 126.0C285.7 126.3 286.3 126.6 287.0 126.8C287.7 127.1 288.3 127.4 289.0 127.7C289.7 128.0 290.3 128.2 291.0 128.5C291.7 128.8 292.3 129.1 293.0 129.3C293.7 129.6 294.3 129.9 295.0 130.1C295.7 130.4 296.3 130.6 297.0 130.9C297.7 131.1 298.3 131.3 299.0 131.6C299.7 131.8 300.3 132.0 301.0 132.3C301.7 132.5 302.3 132.7 303.0 133.0C303.7 133.2 304.3 133.4 305.0 133.6C305.7 133.8 306.3 134.1 307.0 134.3C307.7 134.5 308.3 134.7 309.0 134.9C309.7 135.1 310.3 135.3 311.0 135.5C311.7 135.7 312.3 135.9 313.0 136.1C313.7 136.3 314.3 136.4 315.0 136.6C315.7 136.8 316.3 137.0 317.0 137.2C317.7 137.3 318.3 137.5 319.0 137.7C319.7 137.9 320.5 138.1 321.0 138.2C321.5 138.4 321.8 138.5 322.0 138.5" stroke="#f53df0"/>
<path d="M61.0 150.2C61.3 150.1 62.3 150.0 63.0 149.9C63.7 149.8 64.3 149.7 65.0 149.4C65.7 149.2 66.3 148.8 67.0 148.5C67.7 148.2 68.3 147.8 69.0 147.4C69.7 147.0 70.3 146.7 71.0 146.3C71.7 145.9 72.3 145.5 73.0 145.2C73.7 144.8 74.3 144.4 75.0 144.0C75.7 143.6 76.3 143.2 77.0 142.8C77.7 142.4 78.3 142.0 79.0 141.6C79.7 141.2 80.3 140.8 81.0 140.4C81.7 139.9 82.3 139.5 83.0 139.1C83.7 138.7 84.3 138.3 85.0 137.9C85.7 137.5 86.3 137.1 87.0 136.7C87.7 136.3 88.3 135.9 89.0 135.5C89.7 135.1 90.3 134.7 91.0 134.3C91.7 133.9 92.3 133.5 93.0 133.1C93.7 132.7 94.3 132.3 95.0 131.9C95.7 131.5 96.3 131.0 97.0 130.6C97.7 130.2 98.3 129.7 99.0 129.3C99.7 128.9 100.3 128.4 101.0 128.0C101.7 127.5 102.3 127.1 103.0 126.6C103.7 126.1 104.3 125.7 105.0 125.2C105.7 124.7 106.3 124.3 107.0 123.8C107.7 123.3 108.3 122.8 109.0 122.4C109.7 121.9 110.3 121.5 111.0 121.1C111.7 120.6 112.3 120.2 113.0 119.9C113.7 119.5 114.3 119.2 115.0 119.0C115.7 118.8 116.3 118.6 117.0 118.5C117.7 118.5 118.3 118.5 119.0 118.6C119.7 118.7 120.3 118.9 121.0 119.1C121.7 119.3 122.3 119.6 123.0 119.9C123.7 120.2 124.3 120.5 125.0 120.9C125.7 121.2 126.3 121.6 127.0 121.9C127.7 122.2 128.3 122.5 129.0 122.8C129.7 123.1 130.3 123.3 131.0 123.6C131.7 123.8 132.3 124.0 133.0 124.1C133.7 124.2 134.3 124.4 135.0 124.4C135.7 124.4 136.3 124.6 137.0 124.3C137.7 124.0 138.3 123.4 139.0 122.6C139.7 121.9 140.3 120.7 141.0 119.7C141.7 118.7 142.3 117.6 143.0 116.5C143.7 115.5 144.3 114.4 145.0 113.3C145.7 112.2 146.3 111.1 147.0 110.0C147.7 108.9 148.3 107.8 149.0 106.7C149.7 105.6 150.3 104.5 151.0 103.4C151.7 102.3 152.3 101.2 153.0 100.2C153.7 99.1 154.3 98.0 155.0 97.0C155.7 95.9 156.3 94.9 157.0 93.8C157.7 92.8 158.3 91.7 159.0 90.7C159.7 89.6 160.3 88.6 161.0 87.5C161.7 86.5 162.3 85.4 163.0 84.4C163.7 83.4 164.3 82.3 165.0 81.3C165.7 80.3 166.3 79.3 167.0 78.3C167.7 77.3 168.3 76.3 169.0 75.4C169.7 74.5 170.3 73.6 171.0 72.8C171.7 71.9 172.3 71.1 173.0 70.3C173.7 69.5 174.3 68.7 175.0 67.9C175.7 67.2 176.3 66.5 177.0 65.8C177.7 65.1 178.3 64.4 179.0 63.7C179.7 63.1 180.3 62.5 181.0 61.9C181.7 61.3 182.3 60.7 183.0 60.2C183.7 59.6 184.3 59.1 185.0 58.6C185.7 58.1 186.3 57.6 187.0 57.1C187.7 56.7 188.3 56.2 189.0 55.8C189.7 55.4 190.3 55.0 191.0 54.6C191.7 54.2 192.3 53.9 193.0 53.5C193.7 53.2 194.3 52.9 195.0 52.6C195.7 52.3 196.3 52.0 197.0 51.7C197.7 51.4 198.3 51.2 199.0 50.9C199.7 50.7 200.3 50.4 201.0 50.2C201.7 50.0 202.3 49.8 203.0 49.6C203.7 49.4 204.3 49.3 205.0 49.1C205.7 49.0 206.3 48.9 207.0 48.8C207.7 48.7 208.3 48.6 209.0 48.5C209.7 48.4 210.3 48.4 211.0 48.4C211.7 48.4 212.3 48.4 213.0 48.4C213.7 48.4 214.3 48.4 215.0 48.5C215.7 48.6 216.3 48.6 217.0 48.7C217.7 48.8 218.3 48.9 219.0 49.1C219.7 49.2 220.3 49.4 221.0 49.6C221.7 49.8 222.3 50.0 223.0 50.2C223.7 50.4 224.3 50.7 225.0 50.9C225.7 51.2 226.3 51.4 227.0 51.7C227.7 52.0 228.3 52.3 229.0 52.6C229.7 52.9 230.3 53.2 231.0 53.6C231.7 53.9 232.3 54.3 233.0 54.7C233.7 55.1 234.3 55.5 235.0 55.9C235.7 56.3 236.3 56.7 237.0 57.2C237.7 57.6 238.3 58.0 239.0 58.5C239.7 58.9 240.3 59.4 241.0 59.9C241.7 60.3 242.3 60.8 243.0 61.3C243.7 61.7 244.3 62.2 245.0 62.7C245.7 63.2 246.3 63.7 247.0 64.2C247.7 64.7 248.3 65.2 249.0 65.7C249.7 66.2 250.3 66.7 251.0 67.2C251.7 67.8 252.3 68.3 253.0 68.8C253.7 69.4 254.3 69.9 255.0 70.4C255.7 70.9 256.3 71.5 257.0 72.0C257.7 72.5 258.3 73.0 259.0 73.6C259.7 74.1 260.3 74.6 261.0 75.1C261.7 75.6 262.3 76.1 263.0 76.6C263.7 77.1 264.3 77.6 265.0 78.1C265.7 78.6 266.3 79.1 267.0 79.6C267.7 80.1 268.3 80.5 269.0 81.0C269.7 81.5 270.3 81.9 271.0 82.4C271.7 82.8 272.3 83.3 273.0 83.7C273.7 84.1 274.3 84.5 275.0 84.9C275.7 85.4 276.3 85.8 277.0 86.2C277.7 86.6 278.3 87.0 279.0 87.4C279.7 87.8 280.3 88.2 281.0 88.6C281.7 89.0 282.3 89.4 283.0 89.7C283.7 90.1 284.3 90.5 285.0 90.8C285.7 91.2 286.3 91.6 287.0 91.9C287.7 92.3 288.3 92.7 289.0 93.0C289.7 93.4 290.3 93.8 291.0 94.1C291.7 94.5 292.3 94.8 293.0 95.2C293.7 95.5 294.3 95.9 295.0 96.2C295.7 96.6 296.3 96.9 297.0 97.2C297.7 97.5 298.3 97.9 299.0 98.2C299.7 98.5 300.3 98.8 301.0 99.2C301.7 99.5 302.3 99.8 303.0 100.1C303.7 100.4 304.3 100.7 305.0 101.0C305.7 101.4 306.3 101.7 307.0 102.0C307.7 102.3 308.3 102.6 309.0 102.8C309.7 103.1 310.3 103.4 311.0 103.7C311.7 104.0 312.3 104.2 313.0 104.5C313.7 104.7 314.3 105.0 315.0 105.2C315.7 105.5 316.3 105.8 317.0 106.0C317.7 106.3 318.3 106.5 319.0 106.8C319.7 107.0 320.5 107.3 321.0 107.5C321.5 107.7 321.8 107.8 322.0 107.9" stroke="#1fa14c"/>
<path d="M61.0 144.0C61.3 143.9 62.3 143.7 63.0 143.5C63.7 143.3 64.3 143.1 65.0 142.8C65.7 142.5 66.3 142.1 67.0 141.7C67.7 141.3 68.3 140.8 69.0 140.4C69.7 139.9 70.3 139.5 71.0 139.0C71.7 138.5 72.3 138.1 73.0 137.6C73.7 137.1 74.3 136.6 75.0 136.1C75.7 135.7 76.3 135.2 77.0 134.7C77.7 134.2 78.3 133.7 79.0 133.1C79.7 132.6 80.3 132.1 81.0 131.6C81.7 131.0 82.3 130.5 83.0 130.0C83.7 129.4 84.3 128.9 85.0 128.3C85.7 127.7 86.3 127.2 87.0 126.6C87.7 126.0 88.3 125.4 89.0 124.9C89.7 124.3 90.3 123.7 91.0 123.1C91.7 122.6 92.3 122.0 93.0 121.4C93.7 120.8 94.3 120.2 95.0 119.6C95.7 119.0 96.3 118.4 97.0 117.8C97.7 117.2 98.3 116.6 99.0 115.9C99.7 115.3 100.3 114.6 101.0 114.0C101.7 113.3 102.3 112.7 103.0 112.0C103.7 111.3 104.3 110.7 105.0 110.0C105.7 109.4 106.3 108.7 107.0 108.0C107.7 107.3 108.3 106.7 109.0 106.0C109.7 105.3 110.3 104.6 111.0 103.9C111.7 103.2 112.3 102.4 113.0 101.7C113.7 101.0 114.3 100.3 115.0 99.6C115.7 99.0 116.3 98.3 117.0 97.7C117.7 97.2 118.3 96.6 119.0 96.2C119.7 95.8 120.3 95.4 121.0 95.2C121.7 94.9 122.3 94.8 123.0 94.8C123.7 94.8 124.3 94.9 125.0 95.1C125.7 95.3 126.3 95.6 127.0 96.0C127.7 96.4 128.3 96.9 129.0 97.4C129.7 98.0 130.3 98.6 131.0 99.3C131.7 100.0 132.3 100.7 133.0 101.5C133.7 102.3 134.3 103.2 135.0 104.1C135.7 104.9 136.3 106.0 137.0 106.8C137.7 107.6 138.3 108.9 139.0 109.1C139.7 109.2 140.3 108.4 141.0 107.6C141.7 106.7 142.3 105.2 143.0 103.9C143.7 102.6 144.3 101.2 145.0 99.9C145.7 98.6 146.3 97.2 147.0 95.8C147.7 94.5 148.3 93.1 149.0 91.8C149.7 90.4 150.3 89.1 151.0 87.9C151.7 86.6 152.3 85.3 153.0 84.1C153.7 82.9 154.3 81.7 155.0 80.5C155.7 79.4 156.3 78.2 157.0 77.1C157.7 76.0 158.3 74.9 159.0 73.9C159.7 72.8 160.3 71.8 161.0 70.8C161.7 69.9 162.3 68.9 163.0 68.0C163.7 67.1 164.3 66.2 165.0 65.3C165.7 64.4 166.3 63.6 167.0 62.7C167.7 61.9 168.3 61.1 169.0 60.3C169.7 59.5 170.3 58.8 171.0 58.0C171.7 57.3 172.3 56.6 173.0 55.9C173.7 55.2 174.3 54.5 175.0 53.9C175.7 53.2 176.3 52.6 177.0 52.0C177.7 51.4 178.3 50.8 179.0 50.3C179.7 49.7 180.3 49.2 181.0 48.6C181.7 48.1 182.3 47.6 183.0 47.1C183.7 46.7 184.3 46.2 185.0 45.7C185.7 45.3 186.3 44.9 187.0 44.4C187.7 44.0 188.3 43.6 189.0 43.3C189.7 42.9 190.3 42.5 191.0 42.2C191.7 41.9 192.3 41.5 193.0 41.2C193.7 40.9 194.3 40.6 195.0 40.3C195.7 40.1 196.3 39.8 197.0 39.6C197.7 39.3 198.3 39.1 199.0 38.8C199.7 38.6 200.3 38.4 201.0 38.2C201.7 38.0 202.3 37.8 203.0 37.6C203.7 37.4 204.3 37.3 205.0 37.1C205.7 36.9 206.3 36.8 207.0 36.6C207.7 36.5 208.3 36.4 209.0 36.3C209.7 36.1 210.3 36.0 211.0 35.9C211.7 35.8 212.3 35.7 213.0 35.7C213.7 35.6 214.3 35.5 215.0 35.4C215.7 35.4 216.3 35.3 217.0 35.3C217.7 35.2 218.3 35.2 219.0 35.2C219.7 35.1 220.3 35.1 221.0 35.1C221.7 35.1 222.3 35.1 223.0 35.1C223.7 35.1 224.3 35.1 225.0 35.1C225.7 35.1 226.3 35.2 227.0 35.2C227.7 35.3 228.3 35.3 229.0 35.4C229.7 35.5 230.3 35.6 231.0 35.7C231.7 35.7 232.3 35.8 233.0 35.9C233.7 36.0 234.3 36.1 235.0 36.3C235.7 36.4 236.3 36.5 237.0 36.7C237.7 36.8 238.3 36.9 239.0 37.1C239.7 37.3 240.3 37.5 241.0 37.6C241.7 37.8 242.3 38.0 243.0 38.3C243.7 38.5 244.3 38.7 245.0 38.9C245.7 39.1 246.3 39.4 247.0 39.6C247.7 39.9 248.3 40.1 249.0 40.4C249.7 40.6 250.3 40.9 251.0 41.1C251.7 41.4 252.3 41.7 253.0 41.9C253.7 42.2 254.3 42.5 255.0 42.8C255.7 43.1 256.3 43.4 257.0 43.7C257.7 44.0 258.3 44.2 259.0 44.5C259.7 44.8 260.3 45.1 261.0 45.4C261.7 45.7 262.3 46.0 263.0 46.3C263.7 46.6 264.3 46.9 265.0 47.2C265.7 47.5 266.3 47.8 267.0 48.1C267.7 48.4 268.3 48.6 269.0 48.9C269.7 49.2 270.3 49.5 271.0 49.8C271.7 50.1 272.3 50.4 273.0 50.7C273.7 51.0 274.3 51.3 275.0 51.6C275.7 51.9 276.3 52.2 277.0 52.5C277.7 52.8 278.3 53.0 279.0 53.3C279.7 53.6 280.3 53.9 281.0 54.2C281.7 54.5 282.3 54.8 283.0 55.1C283.7 55.4 284.3 55.7 285.0 56.0C285.7 56.3 286.3 56.6 287.0 57.0C287.7 57.3 288.3 57.6 289.0 57.9C289.7 58.2 290.3 58.5 291.0 58.8C291.7 59.1 292.3 59.4 293.0 59.7C293.7 60.0 294.3 60.3 295.0 60.5C295.7 60.8 296.3 61.1 297.0 61.4C297.7 61.7 298.3 61.9 299.0 62.2C299.7 62.5 300.3 62.7 301.0 63.0C301.7 63.3 302.3 63.5 303.0 63.8C303.7 64.1 304.3 64.3 305.0 64.6C305.7 64.8 306.3 65.1 307.0 65.3C307.7 65.6 308.3 65.8 309.0 66.1C309.7 66.3 310.3 66.5 311.0 66.7C311.7 66.9 312.3 67.2 313.0 67.4C313.7 67.6 314.3 67.8 315.0 68.0C315.7 68.2 316.3 68.3 317.0 68.5C317.7 68.7 318.3 68.9 319.0 69.1C319.7 69.3 320.5 69.6 321.0 69.7C321.5 69.9 321.8 70.0 322.0 70.0" stroke="#4646a6"/>
</g>
<text x="75" y="19.2" font-size="10.2">disk diameter <tspan font-style="italic">D</tspan></text>
<path d="M73 28.6h22.3" stroke="#2b2b2b" stroke-width="1.1"/>
<text x="98.2" y="32.5" font-size="11.2">0.6</text>
<path d="M73 41.2h22.3" stroke="#f03c3c" stroke-width="1.1"/>
<text x="98.2" y="45.1" font-size="11.2">0.8</text>
<path d="M73 53.8h22.3" stroke="#4343f2" stroke-width="1.1"/>
<text x="98.2" y="57.7" font-size="11.2">1</text>
<path d="M73 66.4h22.3" stroke="#f53df0" stroke-width="1.1"/>
<text x="98.2" y="70.3" font-size="11.2">1.2</text>
<path d="M73 79.0h22.3" stroke="#1fa14c" stroke-width="1.1"/>
<text x="98.2" y="82.9" font-size="11.2">1.4</text>
<path d="M73 91.6h22.3" stroke="#4646a6" stroke-width="1.1"/>
<text x="98.2" y="95.5" font-size="11.2">1.6</text>
</g>
<g id="panelB">
<text x="9.8" y="236" font-size="15.8">(b)</text>
<g clip-path="url(#clipB)">
<rect x="40" y="244" width="310.5" height="78" fill="#6e0000"/>
<ellipse cx="117.6" cy="278" rx="84" ry="64" fill="url(#bglow)"/>
<ellipse cx="272.9" cy="278" rx="84" ry="64" fill="url(#bglow)"/>
<ellipse cx="24" cy="250" rx="100" ry="68" fill="url(#dark)"/>
<ellipse cx="366.5" cy="250" rx="100" ry="68" fill="url(#dark)"/>
<ellipse cx="195" cy="330" rx="66" ry="44" fill="url(#dark)"/>
<ellipse cx="195" cy="328" rx="44" ry="36" fill="url(#dark)" opacity="0.85"/>
<ellipse cx="195" cy="238" rx="58" ry="26" fill="url(#dark)" opacity="0.5"/>
<ellipse cx="34" cy="290" rx="42" ry="62" fill="url(#dark)" opacity="0.7"/>
<ellipse cx="356.5" cy="290" rx="42" ry="62" fill="url(#dark)" opacity="0.7"/>
<g clip-path="url(#clipSub)" filter="url(#blur1)"><rect x="30" y="281" width="80" height="6.5" fill="url(#subL)"/><rect x="280.5" y="281" width="80" height="6.5" fill="url(#subR)"/></g>
<ellipse cx="119.1" cy="276" rx="21" ry="22" fill="url(#bglow2)"/>
<ellipse cx="271.4" cy="276" rx="21" ry="22" fill="url(#bglow2)"/>
<g clip-path="url(#clipDisk)"><g filter="url(#blur1)">
<path d="M114.6 265H159.6L179.6 274.7L159.6 285H114.6Z" fill="url(#diskL)"/>
<path d="M275.9 265H230.9L210.9 274.7L230.9 285H275.9Z" fill="url(#diskR)"/>
</g></g>
<ellipse cx="117.0" cy="282.6" rx="3.3" ry="3" fill="url(#hot)"/>
<ellipse cx="273.5" cy="282.6" rx="3.3" ry="3" fill="url(#hot)"/>
</g>
<path d="M40.0 321.8v3.5M78.8 321.8v2.0M117.6 321.8v3.5M156.4 321.8v2.0M195.2 321.8v3.5M234.1 321.8v2.0M272.9 321.8v3.5M311.7 321.8v2.0M350.5 321.8v3.5M40.0 251.4h-3.5M40.0 267.0h-2.0M40.0 282.5h-3.5M40.0 298.0h-2.0M40.0 313.6h-3.5" stroke="#222" stroke-width="1" fill="none"/>
<text x="40.0" y="334.2" font-size="10.2" text-anchor="middle">-1.0</text>
<text x="117.6" y="334.2" font-size="10.2" text-anchor="middle">-0.5</text>
<text x="195.2" y="334.2" font-size="10.2" text-anchor="middle">0.0</text>
<text x="272.9" y="334.2" font-size="10.2" text-anchor="middle">0.5</text>
<text x="350.5" y="334.2" font-size="10.2" text-anchor="middle">1.0</text>
<text x="35.3" y="255.1" font-size="10.2" text-anchor="end">0.2</text>
<text x="35.3" y="286.2" font-size="10.2" text-anchor="end">0.0</text>
<text x="35.3" y="317.2" font-size="10.2" text-anchor="end">-0.2</text>
<text x="195.7" y="351" font-size="12.8" text-anchor="middle">x (µm)</text>
<text transform="translate(17.2,291) rotate(-90)" font-size="12.7" text-anchor="middle">z (µm)</text>
<rect x="357.4" y="248.6" width="13.1" height="74.8" fill="url(#cb)"/>
<text x="364.3" y="242.4" font-size="13" text-anchor="middle">|E|</text>
<text x="373" y="251.5" font-size="9.2" >10</text>
<text x="373" y="289.3" font-size="9.2" >5</text>
<text x="373" y="326.7" font-size="9.2" >0</text>
</g>
<g id="panelC">
<text x="340.8" y="49.4" font-size="15.6" textLength="15.8" lengthAdjust="spacingAndGlyphs">(c)</text>
<g clip-path="url(#clipC)">
<rect x="400.5" y="37" width="110.7" height="191" fill="#5c0000"/>
<ellipse cx="455.9" cy="73.1" rx="26" ry="19" fill="url(#dark2)"/>
<ellipse cx="455.9" cy="34.4" rx="17" ry="22" fill="url(#lite)"/>
<ellipse cx="512.2" cy="93.0" rx="16" ry="17" fill="url(#lite)" opacity="0.8"/>
<ellipse cx="399.5" cy="93.0" rx="16" ry="17" fill="url(#lite)" opacity="0.8"/>
<ellipse cx="455.9" cy="192.3" rx="26" ry="19" fill="url(#dark2)"/>
<ellipse cx="455.9" cy="231.0" rx="17" ry="22" fill="url(#lite)"/>
<ellipse cx="512.2" cy="172.4" rx="16" ry="17" fill="url(#lite)" opacity="0.8"/>
<ellipse cx="399.5" cy="172.4" rx="16" ry="17" fill="url(#lite)" opacity="0.8"/>
<mask id="mk" maskUnits="userSpaceOnUse" x="0" y="0" width="550" height="356"><rect x="0" y="0" width="550" height="356" fill="#000"/>
<rect x="402.0" y="78.3" width="108.8" height="108.8" fill="url(#cmask)"/>
<rect x="346.8" y="-17.3" width="108.8" height="108.8" fill="url(#cmask)"/>
<rect x="457.2" y="-17.3" width="108.8" height="108.8" fill="url(#cmask)"/>
<rect x="346.8" y="173.9" width="108.8" height="108.8" fill="url(#cmask)"/>
<rect x="457.2" y="173.9" width="108.8" height="108.8" fill="url(#cmask)"/>
</mask>
<g mask="url(#mk)">
<circle cx="456.4" cy="132.7" r="54.4" fill="url(#cring)"/>
<circle cx="401.2" cy="37.1" r="54.4" fill="url(#cring)"/>
<circle cx="511.6" cy="37.1" r="54.4" fill="url(#cring)"/>
<circle cx="401.2" cy="228.3" r="54.4" fill="url(#cring)"/>
<circle cx="511.6" cy="228.3" r="54.4" fill="url(#cring)"/>
</g>
<circle cx="456.4" cy="132.7" r="26.9" fill="url(#cin)"/>
<ellipse cx="456.4" cy="132.7" rx="10.5" ry="25" fill="url(#lite2)"/>
<circle cx="401.2" cy="37.1" r="26.9" fill="url(#cin)"/>
<ellipse cx="401.2" cy="37.1" rx="10.5" ry="25" fill="url(#lite2)"/>
<circle cx="511.6" cy="37.1" r="26.9" fill="url(#cin)"/>
<ellipse cx="511.6" cy="37.1" rx="10.5" ry="25" fill="url(#lite2)"/>
<circle cx="401.2" cy="228.3" r="26.9" fill="url(#cin)"/>
<ellipse cx="401.2" cy="228.3" rx="10.5" ry="25" fill="url(#lite2)"/>
<circle cx="511.6" cy="228.3" r="26.9" fill="url(#cin)"/>
<ellipse cx="511.6" cy="228.3" rx="10.5" ry="25" fill="url(#lite2)"/>
</g>
<path d="M400.7 227.8v2.6M414.5 227.8v1.5M428.2 227.8v2.6M442.1 227.8v1.5M455.9 227.8v2.6M469.7 227.8v1.5M483.5 227.8v2.6M497.2 227.8v1.5M511.1 227.8v2.6M400.5 215.5h-2.6M400.5 201.7h-1.5M400.5 187.9h-2.6M400.5 174.1h-1.5M400.5 160.3h-2.6M400.5 146.5h-1.5M400.5 132.7h-2.6M400.5 118.9h-1.5M400.5 105.1h-2.6M400.5 91.3h-1.5M400.5 77.5h-2.6M400.5 63.7h-1.5M400.5 49.9h-2.6" stroke="#222" stroke-width="1" fill="none"/>
<text x="400.7" y="239" font-size="8.7" text-anchor="middle">-1.0</text>
<text x="428.2" y="239" font-size="8.7" text-anchor="middle">-0.5</text>
<text x="455.9" y="239" font-size="8.7" text-anchor="middle">0.0</text>
<text x="483.5" y="239" font-size="8.7" text-anchor="middle">0.5</text>
<text x="511.1" y="239" font-size="8.7" text-anchor="middle">1.0</text>
<text x="396.5" y="218.6" font-size="8.7" text-anchor="end">-1.5</text>
<text x="396.5" y="191.0" font-size="8.7" text-anchor="end">-1.0</text>
<text x="396.5" y="163.4" font-size="8.7" text-anchor="end">-0.5</text>
<text x="396.5" y="135.8" font-size="8.7" text-anchor="end">0.0</text>
<text x="396.5" y="108.2" font-size="8.7" text-anchor="end">0.5</text>
<text x="396.5" y="80.6" font-size="8.7" text-anchor="end">1.0</text>
<text x="396.5" y="53.0" font-size="8.7" text-anchor="end">1.5</text>
<text x="456.4" y="252.6" font-size="10.6" text-anchor="middle">x (µm)</text>
<text transform="translate(378.3,138.3) rotate(-90)" font-size="10.5" text-anchor="middle">y (µm)</text>
<rect x="519.5" y="76.5" width="12.8" height="136.4" fill="url(#cb)"/>
<text x="525" y="65.6" font-size="13" text-anchor="middle">|E|</text>
<text x="536" y="79.7" font-size="9">10</text>
<text x="536" y="147.7" font-size="9">5</text>
<text x="536" y="215.7" font-size="9">0</text>
</g>
</svg></body></html>
